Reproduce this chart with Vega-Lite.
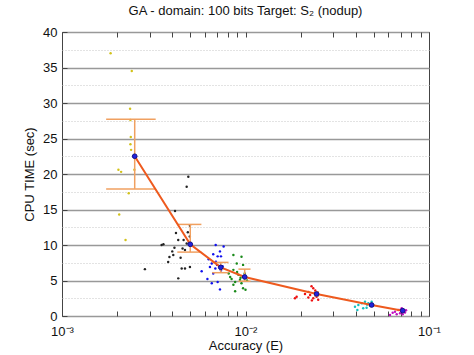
{
  "$schema": "https://vega.github.io/schema/vega-lite/v6.json",
  "width": 367,
  "height": 284,
  "autosize": "none",
  "padding": {"left": 62, "top": 32, "right": 45, "bottom": 39},
  "background": "white",
  "title": {"text": "GA - domain: 100 bits Target: S₂ (nodup)", "font": "Liberation Sans", "fontSize": 13, "fontWeight": "normal", "color": "#111", "offset": 8, "anchor": "middle"},
  "config": {
    "view": {"stroke": "#444", "strokeWidth": 1},
    "axis": {"labelFont": "Liberation Sans", "titleFont": "Liberation Sans", "labelFontSize": 13, "titleFontSize": 13, "titleFontWeight": "normal", "labelColor": "#111", "titleColor": "#111", "domain": false, "tickColor": "#444"}
  },
  "datasets": {
    "pts": [
      {"g": "y", "E": 0.00184, "t": 37.0}, {"g": "y", "E": 0.0024, "t": 34.5}, {"g": "y", "E": 0.00235, "t": 29.2}, {"g": "y", "E": 0.00236, "t": 27.6}, {"g": "y", "E": 0.00237, "t": 25.2}, {"g": "y", "E": 0.00236, "t": 24.2}, {"g": "y", "E": 0.00238, "t": 23.4}, {"g": "y", "E": 0.00203, "t": 20.6}, {"g": "y", "E": 0.0021, "t": 20.3}, {"g": "y", "E": 0.00248, "t": 20.6}, {"g": "y", "E": 0.00231, "t": 17.3}, {"g": "y", "E": 0.00205, "t": 14.3}, {"g": "y", "E": 0.00222, "t": 10.7},
      {"g": "k", "E": 0.00488, "t": 19.6}, {"g": "k", "E": 0.00478, "t": 18.2}, {"g": "k", "E": 0.00413, "t": 14.8}, {"g": "k", "E": 0.00418, "t": 11.7}, {"g": "k", "E": 0.0043, "t": 10.7}, {"g": "k", "E": 0.00357, "t": 10.1}, {"g": "k", "E": 0.00399, "t": 9.1}, {"g": "k", "E": 0.00404, "t": 8.6}, {"g": "k", "E": 0.00454, "t": 9.5}, {"g": "k", "E": 0.00468, "t": 9.3}, {"g": "k", "E": 0.00478, "t": 10.2}, {"g": "k", "E": 0.00498, "t": 12.7}, {"g": "k", "E": 0.00497, "t": 11.2}, {"g": "k", "E": 0.0046, "t": 10.7}, {"g": "k", "E": 0.00443, "t": 8.2}, {"g": "k", "E": 0.00449, "t": 6.7}, {"g": "k", "E": 0.00468, "t": 6.7}, {"g": "k", "E": 0.00498, "t": 6.9}, {"g": "k", "E": 0.0043, "t": 5.3}, {"g": "k", "E": 0.00349, "t": 10.0}, {"g": "k", "E": 0.00283, "t": 6.6}, {"g": "k", "E": 0.00379, "t": 7.6}, {"g": "k", "E": 0.00485, "t": 11.8}, {"g": "k", "E": 0.0041, "t": 9.6}, {"g": "k", "E": 0.00385, "t": 8.3},
      {"g": "b", "E": 0.00688, "t": 10.0}, {"g": "b", "E": 0.00726, "t": 9.1}, {"g": "b", "E": 0.00667, "t": 8.7}, {"g": "b", "E": 0.00705, "t": 8.4}, {"g": "b", "E": 0.00735, "t": 8.4}, {"g": "b", "E": 0.00655, "t": 7.4}, {"g": "b", "E": 0.0069, "t": 7.65}, {"g": "b", "E": 0.00726, "t": 6.9}, {"g": "b", "E": 0.00685, "t": 6.7}, {"g": "b", "E": 0.00667, "t": 6.0}, {"g": "b", "E": 0.00735, "t": 6.4}, {"g": "b", "E": 0.00655, "t": 4.6}, {"g": "b", "E": 0.00705, "t": 4.8}, {"g": "b", "E": 0.00726, "t": 3.75}, {"g": "b", "E": 0.00577, "t": 6.3}, {"g": "b", "E": 0.0062, "t": 5.2}, {"g": "b", "E": 0.0076, "t": 9.8}, {"g": "b", "E": 0.007, "t": 7.2}, {"g": "b", "E": 0.0064, "t": 6.9}, {"g": "b", "E": 0.0075, "t": 7.0}, {"g": "b", "E": 0.0063, "t": 8.0},
      {"g": "g", "E": 0.00859, "t": 8.6}, {"g": "g", "E": 0.00951, "t": 8.35}, {"g": "g", "E": 0.00896, "t": 7.4}, {"g": "g", "E": 0.0097, "t": 7.2}, {"g": "g", "E": 0.00859, "t": 6.5}, {"g": "g", "E": 0.00915, "t": 5.8}, {"g": "g", "E": 0.00825, "t": 5.5}, {"g": "g", "E": 0.00878, "t": 4.8}, {"g": "g", "E": 0.00951, "t": 4.6}, {"g": "g", "E": 0.00859, "t": 4.4}, {"g": "g", "E": 0.0097, "t": 3.9}, {"g": "g", "E": 0.00878, "t": 3.5}, {"g": "g", "E": 0.00933, "t": 5.1}, {"g": "g", "E": 0.0099, "t": 6.0}, {"g": "g", "E": 0.0084, "t": 5.2}, {"g": "g", "E": 0.01, "t": 3.7}, {"g": "g", "E": 0.009, "t": 6.2}, {"g": "g", "E": 0.0094, "t": 5.4}, {"g": "g", "E": 0.0081, "t": 6.0}, {"g": "g", "E": 0.0102, "t": 5.0},
      {"g": "r", "E": 0.0229, "t": 4.2}, {"g": "r", "E": 0.0234, "t": 3.9}, {"g": "r", "E": 0.022, "t": 3.4}, {"g": "r", "E": 0.0239, "t": 3.3}, {"g": "r", "E": 0.0225, "t": 2.96}, {"g": "r", "E": 0.022, "t": 2.6}, {"g": "r", "E": 0.0234, "t": 2.5}, {"g": "r", "E": 0.0244, "t": 2.7}, {"g": "r", "E": 0.0186, "t": 2.5}, {"g": "r", "E": 0.019, "t": 2.7}, {"g": "r", "E": 0.0249, "t": 2.3}, {"g": "r", "E": 0.0211, "t": 3.1}, {"g": "r", "E": 0.024, "t": 3.6}, {"g": "r", "E": 0.023, "t": 2.2},
      {"g": "c", "E": 0.0395, "t": 1.3}, {"g": "c", "E": 0.0412, "t": 1.55}, {"g": "c", "E": 0.043, "t": 1.8}, {"g": "c", "E": 0.0448, "t": 2.0}, {"g": "c", "E": 0.0467, "t": 1.8}, {"g": "c", "E": 0.0477, "t": 1.45}, {"g": "c", "E": 0.0457, "t": 1.17}, {"g": "c", "E": 0.0487, "t": 2.0}, {"g": "c", "E": 0.0438, "t": 1.08}, {"g": "c", "E": 0.0497, "t": 1.5}, {"g": "c", "E": 0.0407, "t": 0.85}, {"g": "c", "E": 0.046, "t": 1.6}, {"g": "c", "E": 0.049, "t": 1.7},
      {"g": "m", "E": 0.0613, "t": 0.14}, {"g": "m", "E": 0.0653, "t": 0.6}, {"g": "m", "E": 0.068, "t": 0.85}, {"g": "m", "E": 0.0695, "t": 0.4}, {"g": "m", "E": 0.071, "t": 1.08}, {"g": "m", "E": 0.0724, "t": 0.7}, {"g": "m", "E": 0.074, "t": 0.5}, {"g": "m", "E": 0.0667, "t": 0.25}, {"g": "m", "E": 0.0634, "t": 0.45}, {"g": "m", "E": 0.0719, "t": 0.25}, {"g": "m", "E": 0.075, "t": 0.8}, {"g": "m", "E": 0.07, "t": 0.9}
    ],
    "means": [
      {"E": 0.00249, "t": 22.5, "lo": 17.9, "hi": 27.7, "capL": 0.00174, "capR": 0.00324},
      {"E": 0.005, "t": 10.1, "lo": 9.0, "hi": 12.9, "capL": 0.00425, "capR": 0.00575},
      {"E": 0.00733, "t": 6.85, "lo": 6.1, "hi": 7.55, "capL": 0.00658, "capR": 0.00808},
      {"E": 0.0099, "t": 5.5, "lo": 4.9, "hi": 6.6, "capL": 0.00915, "capR": 0.01065},
      {"E": 0.0244, "t": 3.1, "lo": 2.8, "hi": 3.4, "capL": 0.02365, "capR": 0.02515},
      {"E": 0.0487, "t": 1.55, "lo": 1.35, "hi": 1.75, "capL": 0.04795, "capR": 0.04945},
      {"E": 0.0719, "t": 0.75, "lo": 0.6, "hi": 0.9, "capL": 0.07115, "capR": 0.07265}
    ]
  },
  "layer": [
    {
      "data": {"name": "pts"},
      "mark": {"type": "circle", "size": 6, "opacity": 1},
      "encoding": {
        "x": {"field": "E", "type": "quantitative", "scale": {"type": "log", "domain": [0.001, 0.1], "nice": false},
          "axis": {"orient": "bottom", "title": "Accuracy (E)", "titlePadding": 1, "grid": false, "tickSize": -5, "labelPadding": 14,
            "values": [0.001, 0.002, 0.003, 0.004, 0.005, 0.006, 0.007, 0.008, 0.009, 0.01, 0.02, 0.03, 0.04, 0.05, 0.06, 0.07, 0.08, 0.09, 0.1],
            "labelExpr": "datum.value == 0.001 ? '10⁻³' : (datum.value == 0.01 ? '10⁻²' : (datum.value == 0.1 ? '10⁻¹' : ''))", "labelFlush": false, "labelOverlap": false}},
        "y": {"field": "t", "type": "quantitative", "scale": {"domain": [0, 40], "nice": false},
          "axis": {"orient": "left", "title": "CPU TIME (sec)", "titlePadding": 6, "values": [0, 5, 10, 15, 20, 25, 30, 35, 40], "grid": true, "gridColor": "#999999", "gridWidth": 1.3, "tickSize": -5, "labelPadding": 10}},
        "color": {"field": "g", "type": "nominal", "legend": null,
          "scale": {"domain": ["y", "k", "b", "g", "r", "c", "m"], "range": ["#d2c21a", "#222222", "#1010ee", "#1a8a1a", "#ee1010", "#10c0c0", "#c010c0"]}}
      }
    },
    {
      "data": {"name": "means"},
      "mark": {"type": "rule", "color": "#f0a060", "strokeWidth": 1.5},
      "encoding": {
        "x": {"field": "E", "type": "quantitative",
          "axis": {"orient": "top", "title": null, "labels": false, "grid": false, "tickSize": -5,
            "values": [0.001, 0.002, 0.003, 0.004, 0.005, 0.006, 0.007, 0.008, 0.009, 0.01, 0.02, 0.03, 0.04, 0.05, 0.06, 0.07, 0.08, 0.09, 0.1]}},
        "y": {"field": "lo", "type": "quantitative",
          "axis": {"orient": "right", "title": null, "labels": false, "ticks": false, "grid": true, "gridColor": "#c8c8c8", "gridDash": [1, 2], "gridWidth": 1.2,
            "values": [2.5, 7.5, 12.5, 17.5, 22.5, 27.5, 32.5, 37.5]}},
        "y2": {"field": "hi"}
      }
    },
    {
      "data": {"name": "means"},
      "mark": {"type": "rule", "color": "#f0a060", "strokeWidth": 1.5},
      "encoding": {
        "x": {"field": "capL", "type": "quantitative", "axis": null},
        "x2": {"field": "capR"},
        "y": {"field": "lo", "type": "quantitative", "axis": null}
      }
    },
    {
      "data": {"name": "means"},
      "mark": {"type": "rule", "color": "#f0a060", "strokeWidth": 1.5},
      "encoding": {
        "x": {"field": "capL", "type": "quantitative", "axis": null},
        "x2": {"field": "capR"},
        "y": {"field": "hi", "type": "quantitative", "axis": null}
      }
    },
    {
      "data": {"name": "means"},
      "mark": {"type": "line", "color": "#ee5a1e", "strokeWidth": 2},
      "encoding": {
        "x": {"field": "E", "type": "quantitative", "axis": null},
        "y": {"field": "t", "type": "quantitative", "axis": null}
      }
    },
    {
      "data": {"name": "means"},
      "mark": {"type": "point", "filled": true, "size": 22, "color": "#2222dd", "stroke": "#10108a", "strokeWidth": 1, "opacity": 1},
      "encoding": {
        "x": {"field": "E", "type": "quantitative", "axis": null},
        "y": {"field": "t", "type": "quantitative", "axis": null}
      }
    }
  ],
  "resolve": {"axis": {"x": "independent", "y": "independent"}}
}
